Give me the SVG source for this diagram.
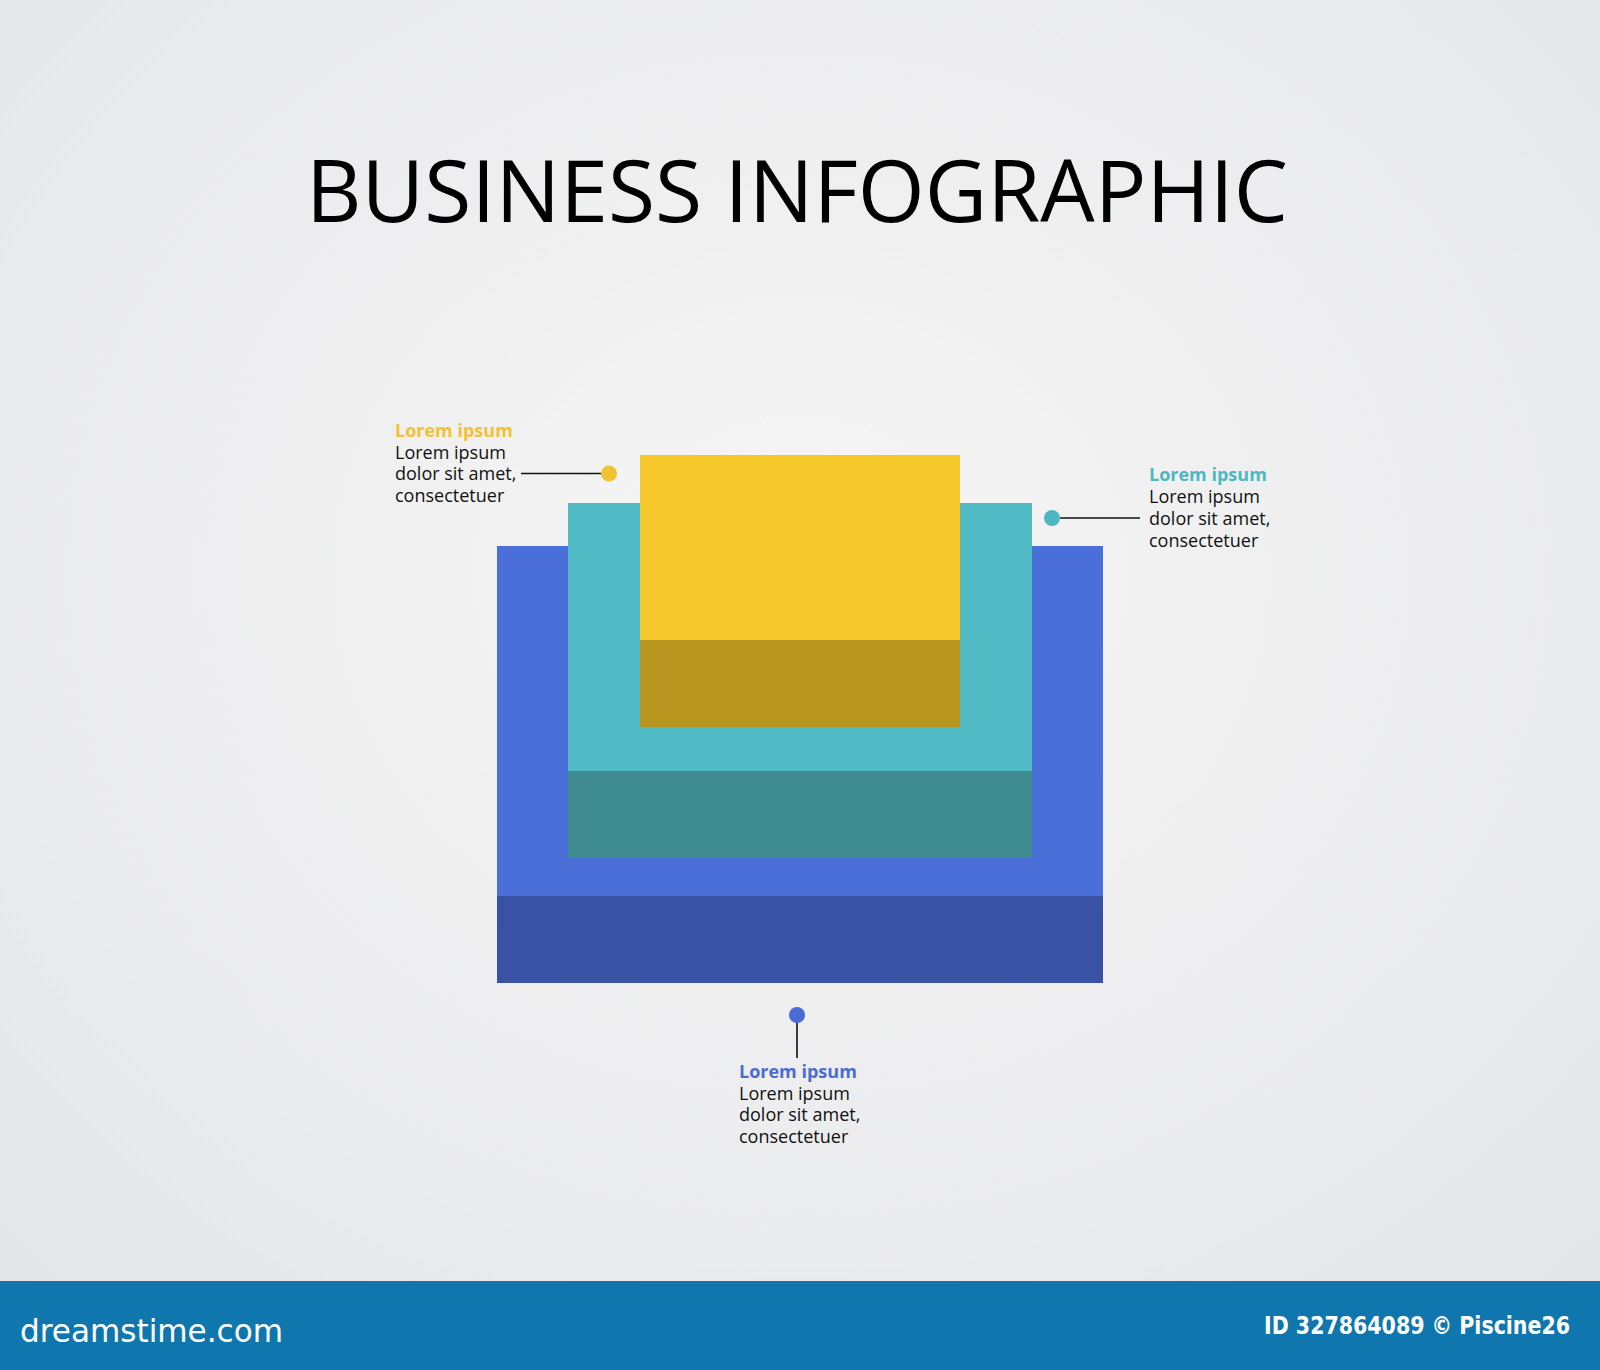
<svg xmlns="http://www.w3.org/2000/svg" width="1600" height="1370" viewBox="0 0 1600 1370">
<defs>
<radialGradient id="bg" cx="0.5" cy="0.42" r="0.75">
<stop offset="0" stop-color="#f6f6f6"/>
<stop offset="1" stop-color="#e4e5e7"/>
</radialGradient>
<style>
.t{font-family:"Open Sans","Noto Sans",sans-serif;font-size:18px;fill:#111}
.h{font-family:"Open Sans","Noto Sans",sans-serif;font-size:18px;font-weight:700}
.ln{stroke:#111;stroke-width:1.6}
</style>
</defs>
<rect width="1600" height="1370" fill="url(#bg)"/>
<text x="797" y="222" text-anchor="middle" font-family="'Open Sans','Noto Sans',sans-serif" font-size="86" fill="#000" textLength="982" lengthAdjust="spacingAndGlyphs">BUSINESS INFOGRAPHIC</text>
<g id="layer-blue">
<rect x="497" y="546" width="606" height="350" fill="#4b6fd8"/>
<rect x="497" y="896" width="606" height="87" fill="#3a52a4"/>
</g>
<g id="layer-teal">
<rect x="568" y="503" width="464" height="268" fill="#52bcc6"/>
<rect x="568" y="771" width="464" height="87" fill="#3e8b91"/>
</g>
<g id="layer-yellow">
<rect x="640" y="455" width="320" height="185" fill="#f5c72b"/>
<rect x="640" y="640" width="320" height="87" fill="#b8951f"/>
</g>
<g id="connectors">
<line class="ln" x1="521" y1="473.5" x2="602" y2="473.5"/>
<circle cx="609" cy="473.5" r="8" fill="#f2c232"/>
<line class="ln" x1="1060" y1="518" x2="1140" y2="518"/>
<circle cx="1052" cy="518" r="8" fill="#4fb7c1"/>
<line class="ln" x1="797" y1="1015" x2="797" y2="1058"/>
<circle cx="797" cy="1015" r="8" fill="#4a6cd4"/>
</g>
<g id="label-yellow">
<text class="h" x="395" y="437" fill="#f2c232">Lorem ipsum</text>
<text class="t" x="395" y="459">Lorem ipsum</text>
<text class="t" x="395" y="480">dolor sit amet,</text>
<text class="t" x="395" y="502">consectetuer</text>
</g>
<g id="label-teal">
<text class="h" x="1149" y="481" fill="#4fb7c1">Lorem ipsum</text>
<text class="t" x="1149" y="503">Lorem ipsum</text>
<text class="t" x="1149" y="525">dolor sit amet,</text>
<text class="t" x="1149" y="547">consectetuer</text>
</g>
<g id="label-blue">
<text class="h" x="739" y="1078" fill="#4a6cd4">Lorem ipsum</text>
<text class="t" x="739" y="1100">Lorem ipsum</text>
<text class="t" x="739" y="1121">dolor sit amet,</text>
<text class="t" x="739" y="1143">consectetuer</text>
</g>
<g id="footer">
<rect x="0" y="1281" width="1600" height="89" fill="#0f77ae"/>
<text x="20" y="1342" font-family="'DejaVu Sans Condensed','DejaVu Sans',sans-serif" font-size="32" fill="#fff" textLength="263" lengthAdjust="spacingAndGlyphs">dreamstime.com</text>
<text x="1570" y="1334" text-anchor="end" font-family="'DejaVu Sans Condensed','DejaVu Sans',sans-serif" font-weight="700" font-size="24" fill="#fff" textLength="306" lengthAdjust="spacingAndGlyphs">ID 327864089 © Piscine26</text>
</g>
</svg>
